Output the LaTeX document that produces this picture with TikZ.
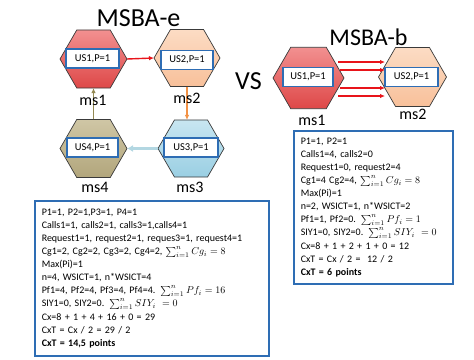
\documentclass[tikz,border=0pt]{standalone}
\usepackage{fontspec}
\setmainfont{Carlito}
\usetikzlibrary{shapes.geometric,arrows.meta,calc}
\definecolor{boxblue}{HTML}{2E6DB4}
\definecolor{hexedge}{HTML}{3A3A3A}
\definecolor{redtop}{HTML}{F29090}
\definecolor{redbot}{HTML}{DE4848}
\definecolor{peachtop}{HTML}{FCDCC4}
\definecolor{peachbot}{HTML}{F8C09A}
\definecolor{bluetop}{HTML}{C8E6F1}
\definecolor{bluebot}{HTML}{9ACFE3}
\definecolor{olivetop}{HTML}{CFC6A5}
\definecolor{olivebot}{HTML}{B2A67C}
\definecolor{arrred}{HTML}{E8141A}
\definecolor{arrorange}{HTML}{F39245}
\definecolor{arrolive}{HTML}{938953}
\definecolor{arrblue}{HTML}{B3D7E2}
\newcommand{\fixedlines}{\lineskiplimit=-30pt\relax\lineskip=0pt\relax}
\begin{document}
\begin{tikzpicture}[x=1pt,y=-1pt,
  hexa/.style={regular polygon,regular polygon sides=6,inner sep=0pt,outer sep=0pt,
    draw=hexedge,line width=0.7pt,minimum size=#1},
  usbox/.style={draw=boxblue,fill=white,line width=1.7pt,minimum width=#1,
    minimum height=19pt,inner sep=0pt,font=\fontsize{10.5}{12}\selectfont},
  lbl/.style={inner sep=0pt,font=\fontsize{16}{18}\selectfont},
  conn/.style={line width=1.4pt,-{Latex[length=5pt,width=4.5pt]}},
  textbox/.style={draw=boxblue,line width=1.5pt,anchor=north west,align=left,
    inner ysep=0pt,font=\fontsize{10}{13.1}\selectfont,
    execute at begin node=\fixedlines}
]
\useasboundingbox (0,0) rectangle (474,359);

% ---------- MSBA-e ----------
\node[inner sep=0pt,font=\fontsize{26}{30}\selectfont] (t1) at (138.5,18) {MSBA-e};

\node[hexa=67,top color=redtop,bottom color=redbot] (ms1) at (93.5,59) {};
\node[hexa=66,top color=peachtop,bottom color=peachbot] (ms2) at (187,58) {};
\node[hexa=66,top color=bluetop,bottom color=bluebot] (ms3) at (191,148.5) {};
\node[hexa=67,top color=olivetop,bottom color=olivebot] (ms4) at (93.5,148.5) {};

\draw[conn,arrred] (ms1.east) -- (ms2.west);
\draw[conn,arrorange] (ms2.south) -- (ms2.south |- ms3.north);
\draw[conn,arrolive] (ms4.north) -- (ms1.south);
\draw[line width=3pt,arrblue,-{Latex[length=6pt,width=7pt]}] (ms3.west) -- (ms4.east);

\node[usbox=53] (u1) at (92.5,58.5) {US1,P=1};
\node[usbox=52] (u2) at (187,60) {US2,P=1};
\node[usbox=54] (u3) at (191,147.5) {US3,P=1};
\node[usbox=51] (u4) at (92.5,147.5) {US4,P=1};

\node[lbl] (l1) at (93,100) {ms1};
\node[lbl] (l2) at (187,98) {ms2};
\node[lbl] (l3) at (190,187) {ms3};
\node[lbl] (l4) at (95,187) {ms4};

% ---------- VS ----------
\node[inner sep=0pt,font=\fontsize{26}{30}\selectfont] (vs) at (248.5,81.5) {VS};

% ---------- MSBA-b ----------
\node[inner sep=0pt,font=\fontsize{24}{28}\selectfont] (t2) at (368.5,37) {MSBA-b};

\node[hexa=71,top color=redtop,bottom color=redbot] (bm1) at (308.5,78) {};
\node[hexa=68,top color=peachtop,bottom color=peachbot] (bm2) at (412.5,77) {};

\foreach \dy/\dx in {-16/-6,-8/-4,10/-4,18/-6}{
  \draw[line width=1.4pt,arrred,-{Latex[length=5pt,width=4.5pt]}]
    ($(bm1.east)+(\dx,\dy)$) -- ($(bm1.east -| bm2.west)+(6.5,\dy)$);
}

\node[usbox=50] (bu1) at (308,77) {US1,P=1};
\node[usbox=53] (bu2) at (411.5,77) {US2,P=1};

\node[lbl] (bl1) at (312,120) {ms1};
\node[lbl] (bl2) at (413,114) {ms2};

% ---------- text boxes ----------
\node[textbox,text width=220pt,inner xsep=7pt,minimum height=155pt] (tb1) at (34,200) {%
P1=1, P2=1,P3=1, P4=1\\
Calls1=1, calls2=1, calls3=1,calls4=1\\
Request1=1, request2=1, reques3=1, request4=1\\
Cg1=2, Cg2=2, Cg3=2, Cg4=2, $\sum_{i=1}^{n} Cg_i = 8$\\
Max(Pi)=1\\
n=4, WSICT=1, n*WSICT=4\\
Pf1=4, Pf2=4, Pf3=4, Pf4=4. $\sum_{i=1}^{n} Pf_i = 16$\\
SIY1=0, SIY2=0. $\sum_{i=1}^{n} SIY_i\ = 0$\\
Cx=8 + 1 + 4 + 16 + 0 = 29\\
CxT = Cx / 2 = 29 / 2\\
\textbf{CxT = 14,5 points}};

\node[textbox,text width=145pt,inner xsep=7pt,minimum height=153pt] (tb2) at (293,130) {%
P1=1, P2=1\\
Calls1=4, calls2=0\\
Request1=0, request2=4\\
Cg1=4 Cg2=4, $\sum_{i=1}^{n} Cg_i = 8$\\
Max(Pi)=1\\
n=2, WSICT=1, n*WSICT=2\\
Pf1=1, Pf2=0. $\sum_{i=1}^{n} Pf_i = 1$\\
SIY1=0, SIY2=0. $\sum_{i=1}^{n} SIY_i\ = 0$\\
Cx=8 + 1 + 2 + 1 + 0 = 12\\
CxT = Cx / 2 = \ 12 / 2\\
\textbf{CxT = 6 points}};
\end{tikzpicture}
\end{document}
